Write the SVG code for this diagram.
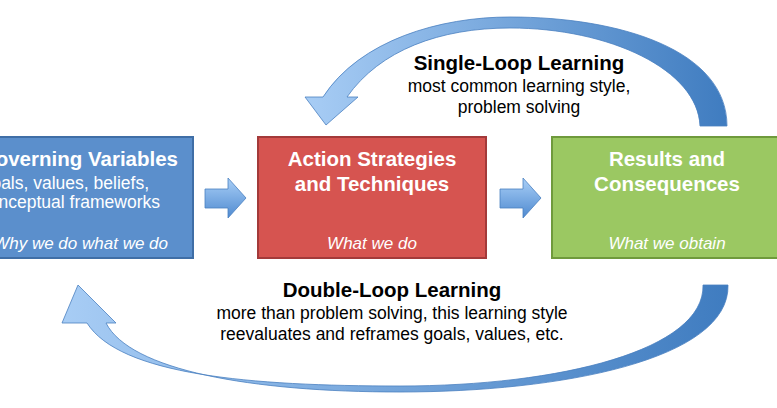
<svg xmlns="http://www.w3.org/2000/svg" width="777" height="408" viewBox="0 0 777 408">
<style>
.t{font-family:"Liberation Sans",Arial,sans-serif;fill:#fff}
.b{font-weight:bold;font-size:20.5px}
.s{font-size:17.5px}
.i{font-style:italic;font-size:17px}
.k{font-family:"Liberation Sans",Arial,sans-serif;fill:#000}
.arr{stroke:#4a80c0;stroke-width:0.8}
</style>
<defs>
<linearGradient id="ga" x1="0" y1="0" x2="1" y2="0">
<stop offset="0" stop-color="#a8cdf5"/><stop offset="1" stop-color="#3f7cc0"/>
</linearGradient>
<linearGradient id="gs" x1="0" y1="0" x2="0" y2="1">
<stop offset="0" stop-color="#a9cff7"/><stop offset="1" stop-color="#4f8ad0"/>
</linearGradient>
</defs>
<g id="governing">
<rect x="-60" y="137" width="253" height="121" fill="#5b8fcc" stroke="#3f6ea6" stroke-width="2"/>
<text class="t b" x="178" y="166" text-anchor="end">Governing Variables</text>
<text class="t s" x="149" y="189" text-anchor="end">goals, values, beliefs,</text>
<text class="t s" x="160" y="208" text-anchor="end">conceptual frameworks</text>
<text class="t i" x="168" y="249" text-anchor="end">Why we do what we do</text>
</g>
<g id="action">
<rect x="258" y="137" width="228" height="121" fill="#d65450" stroke="#a33a3a" stroke-width="2"/>
<text class="t b" x="372" y="166" text-anchor="middle">Action Strategies</text>
<text class="t b" x="372" y="191" text-anchor="middle">and Techniques</text>
<text class="t i" x="372" y="249" text-anchor="middle">What we do</text>
</g>
<g id="results">
<rect x="552" y="137" width="240" height="121" fill="#9bc862" stroke="#6f9a3c" stroke-width="2"/>
<text class="t b" x="667" y="166" text-anchor="middle">Results and</text>
<text class="t b" x="667" y="191" text-anchor="middle">Consequences</text>
<text class="t i" x="667" y="249" text-anchor="middle">What we obtain</text>
</g>
<g id="connectors">
<path class="arr" fill="url(#gs)" d="M205,189 L228,189 L228,178 L246,198 L228,218 L228,208 L205,208 Z"/>
<path class="arr" fill="url(#gs)" d="M500,189 L523,189 L523,178 L541,198 L523,218 L523,208 L500,208 Z"/>
<path class="arr" fill="url(#ga)" d="M323,97 C360,40 440,17 510,17 C620,17 727,50 727,126 L700,126 C698,70 610,28 510,28 C440,28 380,50 347,97 L358,97 L326,125 L305,97 Z"/>
<path class="arr" fill="url(#ga)" d="M703,285 L728,285 C730,360 560,392 400,392 C250,392 130,370 106,323 L116,323 L78,285 L62,323 L87,323 C120,375 250,386 400,386 C560,386 705,350 703,285 Z"/>
</g>
<g id="single-loop">
<text class="k b" x="519" y="70" text-anchor="middle">Single-Loop Learning</text>
<text class="k s" x="519" y="92" text-anchor="middle">most common learning style,</text>
<text class="k s" x="519" y="113" text-anchor="middle">problem solving</text>
</g>
<g id="double-loop">
<text class="k b" x="392" y="297" text-anchor="middle">Double-Loop Learning</text>
<text class="k s" x="392" y="319" text-anchor="middle">more than problem solving, this learning style</text>
<text class="k s" x="392" y="340" text-anchor="middle">reevaluates and reframes goals, values, etc.</text>
</g>
</svg>
